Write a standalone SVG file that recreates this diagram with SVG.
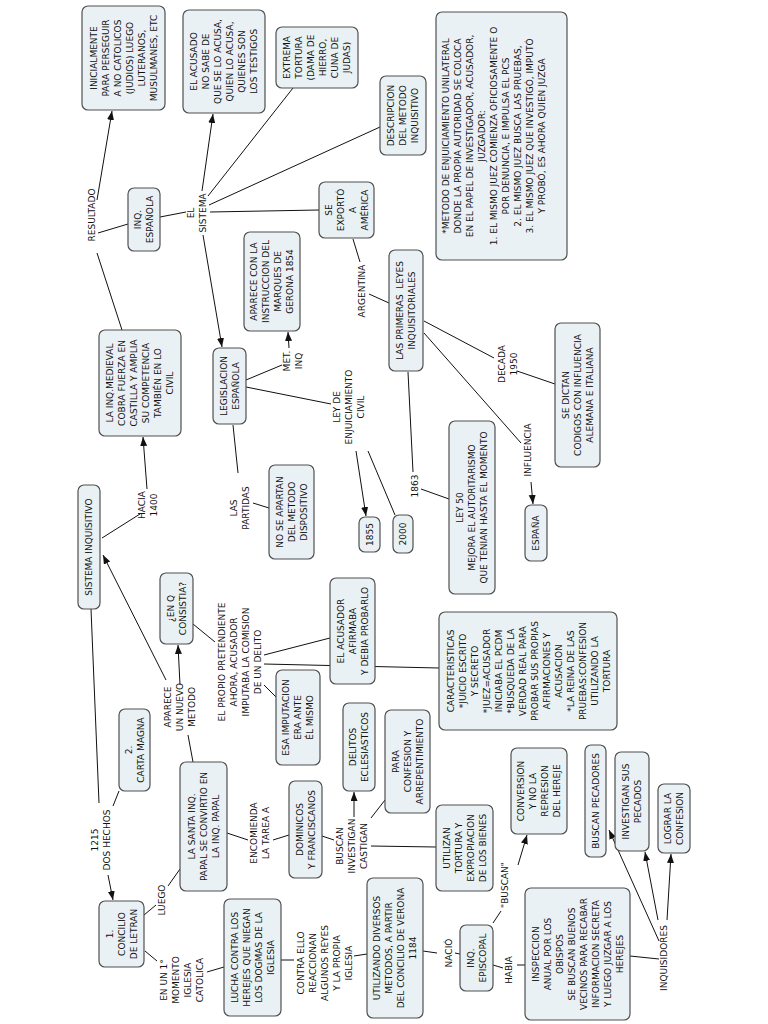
<svg xmlns="http://www.w3.org/2000/svg" width="768" height="1024" viewBox="0 0 768 1024">
<style>
.b{fill:#e9f1f5;stroke:#505050;stroke-width:1.2}
.c{stroke:#111;stroke-width:1;fill:none}
.a{marker-end:url(#ah)}
text{font-family:"DejaVu Sans",Verdana,sans-serif;font-size:9px;fill:#111;text-anchor:middle}
</style>
<defs>
<marker id="ah" markerUnits="userSpaceOnUse" markerWidth="10" markerHeight="8" refX="9" refY="3.5" orient="auto"><path d="M0,0 L9,3.5 L0,7 z" fill="#111"/></marker>
</defs>
<rect width="768" height="1024" fill="#fff"/>
<g id="connectors">
<path class="c a" d="M97,200 L112,111"/>
<path class="c" d="M128,224 L98,233"/>
<path class="c" d="M97,253 L122,330"/>
<path class="c" d="M160,217 L186,212"/>
<path class="c a" d="M202,191 L213,114"/>
<path class="c" d="M208,196 L293,88"/>
<path class="c" d="M209,205 L380,127"/>
<path class="c" d="M210,212 L319,210"/>
<path class="c a" d="M203,235 L222,347"/>
<path class="c" d="M353,239 L360,262"/>
<path class="c" d="M369,294 L389,303"/>
<path class="c" d="M246,380 L282,365"/>
<path class="c a" d="M289,348 L288,332"/>
<path class="c" d="M246,387 L331,404"/>
<path class="c a" d="M356,451 L366,516"/>
<path class="c" d="M368,451 L395,515"/>
<path class="c" d="M238,473 L233,425"/>
<path class="c" d="M253,503 L269,508"/>
<path class="c" d="M408,372 L413,472"/>
<path class="c" d="M421,489 L449,499"/>
<path class="c" d="M424,321 L494,358"/>
<path class="c" d="M517,371 L555,384"/>
<path class="c" d="M424,333 L521,443"/>
<path class="c a" d="M531,482 L533,504"/>
<path class="c" d="M102,538 L140,514"/>
<path class="c a" d="M147,489 L143,437"/>
<path class="c a" d="M166,680 L103,555"/>
<path class="c a" d="M180,685 L178,645"/>
<path class="c" d="M193,624 L215,642"/>
<path class="c" d="M264,655 L330,638"/>
<path class="c" d="M264,685 L276,697"/>
<path class="c" d="M264,664 L439,668"/>
<path class="c" d="M188,735 L193,762"/>
<path class="c" d="M91,609 L99,803"/>
<path class="c" d="M113,806 L119,791"/>
<path class="c a" d="M108,875 L113,900"/>
<path class="c" d="M144,915 L156,905"/>
<path class="c" d="M168,886 L180,869"/>
<path class="c" d="M145,951 L157,961"/>
<path class="c" d="M207,972 L224,967"/>
<path class="c" d="M227,833 L248,840"/>
<path class="c" d="M273,840 L289,835"/>
<path class="c" d="M322,836 L334,840"/>
<path class="c a" d="M354,817 L354,792"/>
<path class="c" d="M371,818 L385,800"/>
<path class="c" d="M371,846 L436,847"/>
<path class="c" d="M281,960 L294,960"/>
<path class="c" d="M354,956 L367,954"/>
<path class="c" d="M423,951 L437,953"/>
<path class="c" d="M455,953 L460,954"/>
<path class="c" d="M493,923 L501,911"/>
<path class="c a" d="M518,865 L527,835"/>
<path class="c" d="M493,965 L503,968"/>
<path class="c" d="M517,965 L525,965"/>
<path class="c" d="M630,956 L659,959"/>
<path class="c a" d="M659,941 L609,830"/>
<path class="c a" d="M658,920 L645,852"/>
<path class="c a" d="M667,920 L671,854"/>
</g>

<g id="n_inicial"><rect class="b" x="82" y="6" width="83" height="104" rx="6"/><text transform="translate(123.5,58) rotate(-90)"><tspan x="0" y="-26.8">INICIALMENTE</tspan><tspan x="0" dy="12">PARA PERSEGUIR</tspan><tspan x="0" dy="12">A NO CATOLICOS</tspan><tspan x="0" dy="12">(JUDIOS) LUEGO</tspan><tspan x="0" dy="12">LUTERANOS,</tspan><tspan x="0" dy="12">MUSULMANES, ETC</tspan></text></g>
<g id="n_acusado"><rect class="b" x="183" y="10" width="82" height="103" rx="6"/><text transform="translate(224,61.5) rotate(-90)"><tspan x="0" y="-26.8">EL ACUSADO</tspan><tspan x="0" dy="12">NO SABE DE</tspan><tspan x="0" dy="12">QUE SE LO ACUSA,</tspan><tspan x="0" dy="12">QUIEN LO ACUSA,</tspan><tspan x="0" dy="12">QUIENES SON</tspan><tspan x="0" dy="12">LOS TESTIGOS</tspan></text></g>
<g id="n_tortura"><rect class="b" x="276" y="27" width="82" height="61" rx="6"/><text transform="translate(317,57.5) rotate(-90)"><tspan x="0" y="-26.8">EXTREMA</tspan><tspan x="0" dy="12">TORTURA</tspan><tspan x="0" dy="12">(DAMA DE</tspan><tspan x="0" dy="12">HIERRO,</tspan><tspan x="0" dy="12">CUNA DE</tspan><tspan x="0" dy="12">JUDAS)</tspan></text></g>
<g id="n_descripcion"><rect class="b" x="380" y="76" width="46" height="79" rx="6"/><text transform="translate(403,115.5) rotate(-90)"><tspan x="0" y="-8.8">DESCRIPCION</tspan><tspan x="0" dy="12">DEL METODO</tspan><tspan x="0" dy="12">INQUISITIVO</tspan></text></g>
<g id="n_metodo"><rect class="b" x="436" y="12" width="131" height="248" rx="6"/><text transform="translate(494,136) rotate(-90)"><tspan x="0" y="-44.8">*METODO DE ENJUICIAMIENTO UNILATERAL</tspan><tspan x="0" dy="12">DONDE LA PROPIA AUTORIDAD SE COLOCA</tspan><tspan x="0" dy="12">EN EL PAPEL DE INVESTIGADOR, ACUSADOR,</tspan><tspan x="0" dy="12">JUZGADOR:</tspan><tspan x="0" dy="12">1. EL MISMO JUEZ COMIENZA OFICIOSAMENTE O</tspan><tspan x="0" dy="12">POR DENUNCIA, E IMPULSA EL PCS</tspan><tspan x="0" dy="12">2. EL MISMO JUEZ BUSCA LAS PRUEBAS,</tspan><tspan x="0" dy="12">3. EL MISMO JUEZ QUE INVESTIGÓ, IMPUTÓ</tspan><tspan x="0" dy="12">Y PROBÓ, ES AHORA QUIEN JUZGA</tspan></text></g>
<g id="n_exporto"><rect class="b" x="319" y="182" width="55" height="56" rx="6"/><text transform="translate(346.5,210) rotate(-90)"><tspan x="0" y="-14.8">SE</tspan><tspan x="0" dy="12">EXPORTÓ</tspan><tspan x="0" dy="12">A</tspan><tspan x="0" dy="12">AMÉRICA</tspan></text></g>
<g id="n_inqesp"><rect class="b" x="128" y="188" width="32" height="63" rx="6"/><text transform="translate(144,219.5) rotate(-90)"><tspan x="0" y="-2.8">INQ.</tspan><tspan x="0" dy="12">ESPAÑOLA</tspan></text></g>
<g id="n_aparece"><rect class="b" x="244" y="232" width="56" height="99" rx="6"/><text transform="translate(272,281.5) rotate(-90)"><tspan x="0" y="-14.8">APARECE CON LA</tspan><tspan x="0" dy="12">INSTRUCCION DEL</tspan><tspan x="0" dy="12">MARQUES DE</tspan><tspan x="0" dy="12">GERONA 1854</tspan></text></g>
<g id="n_medieval"><rect class="b" x="99" y="330" width="82" height="106" rx="6"/><text transform="translate(140,383) rotate(-90)"><tspan x="0" y="-26.8">LA INQ.MEDIEVAL</tspan><tspan x="0" dy="12">COBRA FUERZA EN</tspan><tspan x="0" dy="12">CASTILLA Y AMPLIA</tspan><tspan x="0" dy="12">SU COMPETENCIA</tspan><tspan x="0" dy="12">TAMBIÉN EN LO</tspan><tspan x="0" dy="12">CIVIL</tspan></text></g>
<g id="n_legislacion"><rect class="b" x="213" y="348" width="33" height="76" rx="6"/><text transform="translate(229.5,386) rotate(-90)"><tspan x="0" y="-2.8">LEGISLACION</tspan><tspan x="0" dy="12">ESPAÑOLA</tspan></text></g>
<g id="n_primeras"><rect class="b" x="389" y="250" width="34" height="121" rx="6"/><text transform="translate(406,310.5) rotate(-90)"><tspan x="0" y="-2.8">LAS PRIMERAS&#160; LEYES</tspan><tspan x="0" dy="12">INQUISITORIALES</tspan></text></g>
<g id="n_dictan"><rect class="b" x="555" y="323" width="45" height="144" rx="6"/><text transform="translate(577.5,395) rotate(-90)"><tspan x="0" y="-8.8">SE DICTAN</tspan><tspan x="0" dy="12">CODIGOS CON INFLUENCIA</tspan><tspan x="0" dy="12">ALEMANA E ITALIANA</tspan></text></g>
<g id="n_sistema"><rect class="b" x="78" y="485" width="22" height="124" rx="6"/><text transform="translate(89,547) rotate(-90)"><tspan x="0" y="3.2">SISTEMA INQUISITIVO</tspan></text></g>
<g id="n_noseapartan"><rect class="b" x="269" y="465" width="45" height="94" rx="6"/><text transform="translate(291.5,512) rotate(-90)"><tspan x="0" y="-8.8">NO SE APARTAN</tspan><tspan x="0" dy="12">DEL METODO</tspan><tspan x="0" dy="12">DISPOSITIVO</tspan></text></g>
<g id="n_1855"><rect class="b" x="359" y="517" width="21" height="35" rx="6"/><text transform="translate(369.5,534.5) rotate(-90)"><tspan x="0" y="3.2">1855</tspan></text></g>
<g id="n_2000"><rect class="b" x="393" y="515" width="20" height="38" rx="6"/><text transform="translate(403,534) rotate(-90)"><tspan x="0" y="3.2">2000</tspan></text></g>
<g id="n_ley50"><rect class="b" x="449" y="421" width="46" height="173" rx="6"/><text transform="translate(472,507.5) rotate(-90)"><tspan x="0" y="-8.8">LEY 50</tspan><tspan x="0" dy="12">MEJORA EL AUTORITARISMO</tspan><tspan x="0" dy="12">QUE TENIAN HASTA EL MOMENTO</tspan></text></g>
<g id="n_espana"><rect class="b" x="525" y="505" width="22" height="56" rx="6"/><text transform="translate(536,533) rotate(-90)"><tspan x="0" y="3.2">ESPAÑA</tspan></text></g>
<g id="n_enq"><rect class="b" x="160" y="573" width="33" height="71" rx="6"/><text transform="translate(176.5,608.5) rotate(-90)"><tspan x="0" y="-2.8">¿EN Q</tspan><tspan x="0" dy="12">CONSISTIA?</tspan></text></g>
<g id="n_acusador"><rect class="b" x="330" y="578" width="45" height="106" rx="6"/><text transform="translate(352.5,631) rotate(-90)"><tspan x="0" y="-8.8">EL ACUSADOR</tspan><tspan x="0" dy="12">AFIRMABA</tspan><tspan x="0" dy="12">Y DEBIA PROBARLO</tspan></text></g>
<g id="n_caracteristicas"><rect class="b" x="439" y="612" width="178" height="118" rx="6"/><text transform="translate(529,671) rotate(-90)"><tspan x="0" y="-74.8">CARACTERISTICAS</tspan><tspan x="0" dy="12">*JUICIO ESCRITO</tspan><tspan x="0" dy="12">Y SECRETO</tspan><tspan x="0" dy="12">*JUEZ=ACUSADOR</tspan><tspan x="0" dy="12">INICIABA EL PCDM</tspan><tspan x="0" dy="12">*BUSQUEDA DE LA</tspan><tspan x="0" dy="12">VERDAD REAL PARA</tspan><tspan x="0" dy="12">PROBAR SUS PROPIAS</tspan><tspan x="0" dy="12">AFIRMACIONES Y</tspan><tspan x="0" dy="12">ACUSACION</tspan><tspan x="0" dy="12">*LA REINA DE LAS</tspan><tspan x="0" dy="12">PRUEBAS:CONFESION</tspan><tspan x="0" dy="12">UTILIZANDO LA</tspan><tspan x="0" dy="12">TORTURA</tspan></text></g>
<g id="n_esa"><rect class="b" x="276" y="670" width="44" height="95" rx="6"/><text transform="translate(298,717.5) rotate(-90)"><tspan x="0" y="-8.8">ESA IMPUTACION</tspan><tspan x="0" dy="12">ERA ANTE</tspan><tspan x="0" dy="12">ÉL MISMO</tspan></text></g>
<g id="n_delitos"><rect class="b" x="343" y="703" width="32" height="88" rx="6"/><text transform="translate(359,747) rotate(-90)"><tspan x="0" y="-2.8">DELITOS</tspan><tspan x="0" dy="12">ECLESIASTICOS</tspan></text></g>
<g id="n_para"><rect class="b" x="385" y="710" width="45" height="103" rx="6"/><text transform="translate(407.5,761.5) rotate(-90)"><tspan x="0" y="-8.8">PARA</tspan><tspan x="0" dy="12">CONFESION Y</tspan><tspan x="0" dy="12">ARREPENTIMIENTO</tspan></text></g>
<g id="n_carta"><rect class="b" x="119" y="709" width="31" height="82" rx="6"/><text transform="translate(134.5,750) rotate(-90)"><tspan x="0" y="-2.8">2.</tspan><tspan x="0" dy="12">CARTA MAGNA</tspan></text></g>
<g id="n_santa"><rect class="b" x="180" y="762" width="47" height="129" rx="6"/><text transform="translate(203.5,826.5) rotate(-90)"><tspan x="0" y="-8.8">LA SANTA INQ.</tspan><tspan x="0" dy="12">PAPAL SE CONVIRTIO EN</tspan><tspan x="0" dy="12">LA INQ. PAPAL</tspan></text></g>
<g id="n_dominicos"><rect class="b" x="289" y="781" width="33" height="97" rx="6"/><text transform="translate(305.5,829.5) rotate(-90)"><tspan x="0" y="-2.8">DOMINICOS</tspan><tspan x="0" dy="12">Y FRANCISCANOS</tspan></text></g>
<g id="n_concilio"><rect class="b" x="99" y="901" width="45" height="66" rx="6"/><text transform="translate(121.5,934) rotate(-90)"><tspan x="0" y="-8.8">1.</tspan><tspan x="0" dy="12">CONCILIO</tspan><tspan x="0" dy="12">DE LETRAN</tspan></text></g>
<g id="n_lucha"><rect class="b" x="224" y="899" width="57" height="117" rx="6"/><text transform="translate(252.5,957.5) rotate(-90)"><tspan x="0" y="-14.8">LUCHA CONTRA LOS</tspan><tspan x="0" dy="12">HEREJES QUE NIEGAN</tspan><tspan x="0" dy="12">LOS DOGMAS DE LA</tspan><tspan x="0" dy="12">IGLESIA</tspan></text></g>
<g id="n_utilizan"><rect class="b" x="436" y="805" width="57" height="86" rx="6"/><text transform="translate(464.5,848) rotate(-90)"><tspan x="0" y="-14.8">UTILIZAN</tspan><tspan x="0" dy="12">TORTURA Y</tspan><tspan x="0" dy="12">EXPROPIACION</tspan><tspan x="0" dy="12">DE LOS BIENES</tspan></text></g>
<g id="n_utilizando"><rect class="b" x="367" y="878" width="56" height="140" rx="6"/><text transform="translate(395,948) rotate(-90)"><tspan x="0" y="-14.8">UTILIZANDO DIVERSOS</tspan><tspan x="0" dy="12">METODOS, A PARTIR</tspan><tspan x="0" dy="12">DEL CONCILIO DE VERONA</tspan><tspan x="0" dy="12">1184</tspan></text></g>
<g id="n_episcopal"><rect class="b" x="460" y="925" width="33" height="66" rx="6"/><text transform="translate(476.5,958) rotate(-90)"><tspan x="0" y="-2.8">INQ.</tspan><tspan x="0" dy="12">EPISCOPAL</tspan></text></g>
<g id="n_conversion"><rect class="b" x="511" y="748" width="56" height="86" rx="6"/><text transform="translate(539,791) rotate(-90)"><tspan x="0" y="-14.8">CONVERSION</tspan><tspan x="0" dy="12">Y NO LA</tspan><tspan x="0" dy="12">REPRESION</tspan><tspan x="0" dy="12">DEL HEREJE</tspan></text></g>
<g id="n_pecadores"><rect class="b" x="585" y="745" width="21" height="112" rx="6"/><text transform="translate(595.5,801) rotate(-90)"><tspan x="0" y="3.2">BUSCAN PECADORES</tspan></text></g>
<g id="n_investigan"><rect class="b" x="615" y="752" width="34" height="99" rx="6"/><text transform="translate(632,801.5) rotate(-90)"><tspan x="0" y="-2.8">INVESTIGAN SUS</tspan><tspan x="0" dy="12">PECADOS</tspan></text></g>
<g id="n_lograr"><rect class="b" x="658" y="784" width="32" height="69" rx="6"/><text transform="translate(674,818.5) rotate(-90)"><tspan x="0" y="-2.8">LOGRAR LA</tspan><tspan x="0" dy="12">CONFESION</tspan></text></g>
<g id="n_inspeccion"><rect class="b" x="525" y="888" width="105" height="132" rx="6"/><text transform="translate(577.5,954) rotate(-90)"><tspan x="0" y="-38.8">INSPECCION</tspan><tspan x="0" dy="12">ANUAL POR LOS</tspan><tspan x="0" dy="12">OBISPOS</tspan><tspan x="0" dy="12">SE BUSCAN BUENOS</tspan><tspan x="0" dy="12">VECINOS PARA RECABAR</tspan><tspan x="0" dy="12">INFORMACION SECRETA</tspan><tspan x="0" dy="12">Y LUEGO JUZGAR A LOS</tspan><tspan x="0" dy="12">HEREJES</tspan></text></g>

<g id="l_resultado"><text transform="translate(92,215) rotate(-90)"><tspan x="0" y="3.2">RESULTADO</tspan></text></g>
<g id="l_elsistema"><text transform="translate(197,213) rotate(-90)"><tspan x="0" y="-2.8">EL</tspan><tspan x="0" dy="12">SISTEMA</tspan></text></g>
<g id="l_metinq"><text transform="translate(293,361) rotate(-90)"><tspan x="0" y="-2.8">MET.</tspan><tspan x="0" dy="12">INQ</tspan></text></g>
<g id="l_argentina"><text transform="translate(362,291) rotate(-90)"><tspan x="0" y="3.2">ARGENTINA</tspan></text></g>
<g id="l_leyenj"><text transform="translate(349,407) rotate(-90)"><tspan x="0" y="-8.8">LEY DE</tspan><tspan x="0" dy="12">ENJUICIAMIENTO</tspan><tspan x="0" dy="12">CIVIL</tspan></text></g>
<g id="l_decada"><text transform="translate(508,364) rotate(-90)"><tspan x="0" y="-2.8">DECADA</tspan><tspan x="0" dy="12">1950</tspan></text></g>
<g id="l_influencia"><text transform="translate(528,450) rotate(-90)"><tspan x="0" y="3.2">INFLUENCIA</tspan></text></g>
<g id="l_1863"><text transform="translate(415,486) rotate(-90)"><tspan x="0" y="3.2">1863</tspan></text></g>
<g id="l_hacia"><text transform="translate(148,505) rotate(-90)"><tspan x="0" y="-2.8">HACIA</tspan><tspan x="0" dy="12">1400</tspan></text></g>
<g id="l_partidas"><text transform="translate(240,508) rotate(-90)"><tspan x="0" y="-2.8">LAS</tspan><tspan x="0" dy="12">PARTIDAS</tspan></text></g>
<g id="l_aparece"><text transform="translate(180,707) rotate(-90)"><tspan x="0" y="-8.8">APARECE</tspan><tspan x="0" dy="12">UN NUEVO</tspan><tspan x="0" dy="12">METODO</tspan></text></g>
<g id="l_propio"><text transform="translate(240,662) rotate(-90)"><tspan x="0" y="-14.8">EL PROPIO PRETENDIENTE</tspan><tspan x="0" dy="12">AHORA, ACUSADOR</tspan><tspan x="0" dy="12">IMPUTABA LA COMISION</tspan><tspan x="0" dy="12">DE UN DELITO</tspan></text></g>
<g id="l_1215"><text transform="translate(101,840) rotate(-90)"><tspan x="0" y="-2.8">1215</tspan><tspan x="0" dy="12">DOS HECHOS</tspan></text></g>
<g id="l_luego"><text transform="translate(162,900) rotate(-90)"><tspan x="0" y="3.2">LUEGO</tspan></text></g>
<g id="l_encomienda"><text transform="translate(260,833) rotate(-90)"><tspan x="0" y="-2.8">ENCOMIENDA</tspan><tspan x="0" dy="12">LA TAREA A</tspan></text></g>
<g id="l_enun"><text transform="translate(182,980) rotate(-90)"><tspan x="0" y="-14.8">EN UN 1°</tspan><tspan x="0" dy="12">MOMENTO</tspan><tspan x="0" dy="12">IGLESIA</tspan><tspan x="0" dy="12">CATOLICA</tspan></text></g>
<g id="l_contra"><text transform="translate(325,963) rotate(-90)"><tspan x="0" y="-20.8">CONTRA ELLO</tspan><tspan x="0" dy="12">REACCIONAN</tspan><tspan x="0" dy="12">ALGUNOS REYES</tspan><tspan x="0" dy="12">Y LA PROPIA</tspan><tspan x="0" dy="12">IGLESIA</tspan></text></g>
<g id="l_buscan"><text transform="translate(352,846) rotate(-90)"><tspan x="0" y="-8.8">BUSCAN</tspan><tspan x="0" dy="12">INVESTIGAN</tspan><tspan x="0" dy="12">CASTIGAN</tspan></text></g>
<g id="l_nacio"><text transform="translate(449,953) rotate(-90)"><tspan x="0" y="3.2">NACIÓ</tspan></text></g>
<g id="l_buscan2"><text transform="translate(505,885) rotate(-90)"><tspan x="0" y="3.2">"BUSCAN"</tspan></text></g>
<g id="l_habia"><text transform="translate(509,970) rotate(-90)"><tspan x="0" y="3.2">HABIA</tspan></text></g>
<g id="l_inquisidores"><text transform="translate(664,958) rotate(-90)"><tspan x="0" y="3.2">INQUISIDORES</tspan></text></g>
</svg>
